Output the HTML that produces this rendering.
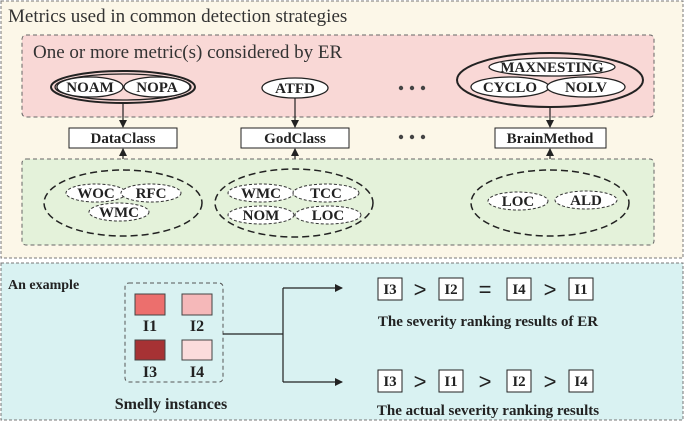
<!DOCTYPE html>
<html><head><meta charset="utf-8"><style>body{margin:0}svg{display:block}</style></head><body>
<svg width="685" height="422" viewBox="0 0 685 422" xmlns="http://www.w3.org/2000/svg" font-family="Liberation Serif, serif">
<defs><marker id="a" markerWidth="8" markerHeight="8" refX="7" refY="4" orient="auto" markerUnits="userSpaceOnUse"><path d="M0,0 L8,4 L0,8 z" fill="#222"/></marker></defs>
<rect x="1" y="1" width="682" height="257" fill="#fcf7e8" stroke="#777" stroke-dasharray="3,2"/>
<text x="8" y="22" font-size="19" fill="#333">Metrics used in common detection strategies</text>
<rect x="22" y="35" width="632" height="82" rx="4" fill="#f9d8d6" stroke="#666" stroke-dasharray="4,3"/>
<text x="33" y="58" font-size="19" fill="#333">One or more metric(s) considered by ER</text>
<g stroke="#222" fill="#fff" stroke-width="1.3">
<ellipse cx="123" cy="87" rx="72" ry="16" fill="none" stroke-width="2"/>
<ellipse cx="123" cy="87" rx="68" ry="13" fill="none"/>
<ellipse cx="90" cy="87" rx="33" ry="10"/><ellipse cx="157" cy="87" rx="33" ry="10"/>
<ellipse cx="295" cy="88" rx="33" ry="10"/>
<ellipse cx="550" cy="80" rx="93" ry="27" fill="none" stroke-width="2"/>
<ellipse cx="552" cy="67" rx="63" ry="9"/><ellipse cx="510" cy="87" rx="39" ry="10"/><ellipse cx="586" cy="87" rx="39" ry="10"/>
</g>
<g font-size="15" font-weight="bold" text-anchor="middle" fill="#222">
<text x="90" y="92">NOAM</text><text x="157" y="92">NOPA</text><text x="295" y="93">ATFD</text>
<text x="552" y="72">MAXNESTING</text><text x="510" y="92">CYCLO</text><text x="586" y="92">NOLV</text>
</g>
<g fill="#444"><circle cx="401" cy="88" r="2.2"/><circle cx="412" cy="88" r="2.2"/><circle cx="423" cy="88" r="2.2"/>
<circle cx="401" cy="137" r="2.2"/><circle cx="412" cy="137" r="2.2"/><circle cx="423" cy="137" r="2.2"/>
<circle cx="401" cy="204" r="2.2"/><circle cx="412" cy="204" r="2.2"/><circle cx="423" cy="204" r="2.2"/></g>
<g stroke="#222" stroke-width="1.2" marker-end="url(#a)"><line x1="123" y1="103" x2="123" y2="127"/><line x1="295" y1="98" x2="295" y2="127"/><line x1="550" y1="107" x2="550" y2="127"/>
<line x1="123" y1="170" x2="123" y2="149"/><line x1="295" y1="170" x2="295" y2="149"/><line x1="550" y1="170" x2="550" y2="149"/></g>
<g fill="#fff" stroke="#222"><rect x="69" y="128" width="108" height="20"/><rect x="241" y="128" width="108" height="20"/><rect x="495" y="128" width="111" height="20"/></g>
<g font-size="15" font-weight="bold" text-anchor="middle" fill="#222"><text x="123" y="143">DataClass</text><text x="295" y="143">GodClass</text><text x="550" y="143">BrainMethod</text></g>
<rect x="22" y="159" width="632" height="86" rx="4" fill="#e4f2da" stroke="#666" stroke-dasharray="4,3"/>
<g fill="none" stroke="#222" stroke-width="1.5" stroke-dasharray="7,4"><ellipse cx="123" cy="203" rx="79" ry="33"/><ellipse cx="294" cy="203" rx="79" ry="34"/><ellipse cx="550" cy="203" rx="79" ry="33"/></g>
<g fill="#fff" stroke="#333" stroke-dasharray="3,2"><ellipse cx="96" cy="193" rx="30" ry="9"/><ellipse cx="151" cy="193" rx="30" ry="9"/><ellipse cx="119" cy="212" rx="30" ry="9"/>
<ellipse cx="261" cy="193" rx="33" ry="9"/><ellipse cx="326" cy="193" rx="33" ry="9"/><ellipse cx="261" cy="215" rx="33" ry="9"/><ellipse cx="328" cy="215" rx="33" ry="9"/>
<ellipse cx="518" cy="201" rx="30" ry="9"/><ellipse cx="586" cy="200" rx="31" ry="9"/></g>
<g font-size="15" font-weight="bold" text-anchor="middle" fill="#222"><text x="96" y="198">WOC</text><text x="151" y="198">RFC</text><text x="119" y="217">WMC</text>
<text x="261" y="198">WMC</text><text x="326" y="198">TCC</text><text x="261" y="220">NOM</text><text x="328" y="220">LOC</text>
<text x="518" y="206">LOC</text><text x="586" y="205">ALD</text></g>
<rect x="1" y="263" width="682" height="157" fill="#d9f2f2" stroke="#777" stroke-dasharray="3,2"/>
<text x="8" y="289" font-size="14" font-weight="bold" fill="#222">An example</text>
<rect x="125" y="283" width="98" height="99" rx="4" fill="none" stroke="#555" stroke-dasharray="4,3"/>
<g stroke="#444"><rect x="135" y="294" width="30" height="21" fill="#ec6f6d"/><rect x="182" y="294" width="30" height="21" fill="#f5b8b9"/><rect x="135" y="340" width="30" height="20" fill="#a63234"/><rect x="182" y="340" width="30" height="20" fill="#fbdcdc"/></g>
<g font-size="16" font-weight="bold" text-anchor="middle" fill="#222"><text x="150" y="331">I1</text><text x="197" y="331">I2</text><text x="150" y="377">I3</text><text x="197" y="377">I4</text><text x="171" y="409">Smelly instances</text></g>
<g font-size="15" font-weight="bold" text-anchor="middle" fill="#222">
<text x="488" y="326">The severity ranking results of ER</text><text x="488" y="415">The actual severity ranking results</text></g>
<path d="M223,334 H283 M283,288 V382" stroke="#222" stroke-width="1.2" fill="none"/>
<g stroke="#222" stroke-width="1.2" marker-end="url(#a)"><line x1="283" y1="288" x2="342" y2="288"/><line x1="283" y1="382" x2="342" y2="382"/></g>
<g fill="#fff" stroke="#222"><rect x="378" y="278" width="24" height="22"/><rect x="439" y="278" width="24" height="22"/><rect x="507" y="278" width="24" height="22"/><rect x="569" y="278" width="24" height="22"/>
<rect x="378" y="370" width="24" height="22"/><rect x="439" y="370" width="24" height="22"/><rect x="507" y="370" width="24" height="22"/><rect x="569" y="370" width="24" height="22"/></g>
<g font-size="15" font-weight="bold" text-anchor="middle" fill="#222"><text x="390" y="294">I3</text><text x="451" y="294">I2</text><text x="519" y="294">I4</text><text x="581" y="294">I1</text>
<text x="390" y="386">I3</text><text x="451" y="386">I1</text><text x="519" y="386">I2</text><text x="581" y="386">I4</text></g>
<g font-size="22" text-anchor="middle" fill="#222" font-family="Liberation Sans, sans-serif"><text x="420" y="297">&gt;</text><text x="485" y="297">=</text><text x="550" y="297">&gt;</text>
<text x="420" y="389">&gt;</text><text x="485" y="389">&gt;</text><text x="550" y="389">&gt;</text></g>
</svg>
</body></html>
